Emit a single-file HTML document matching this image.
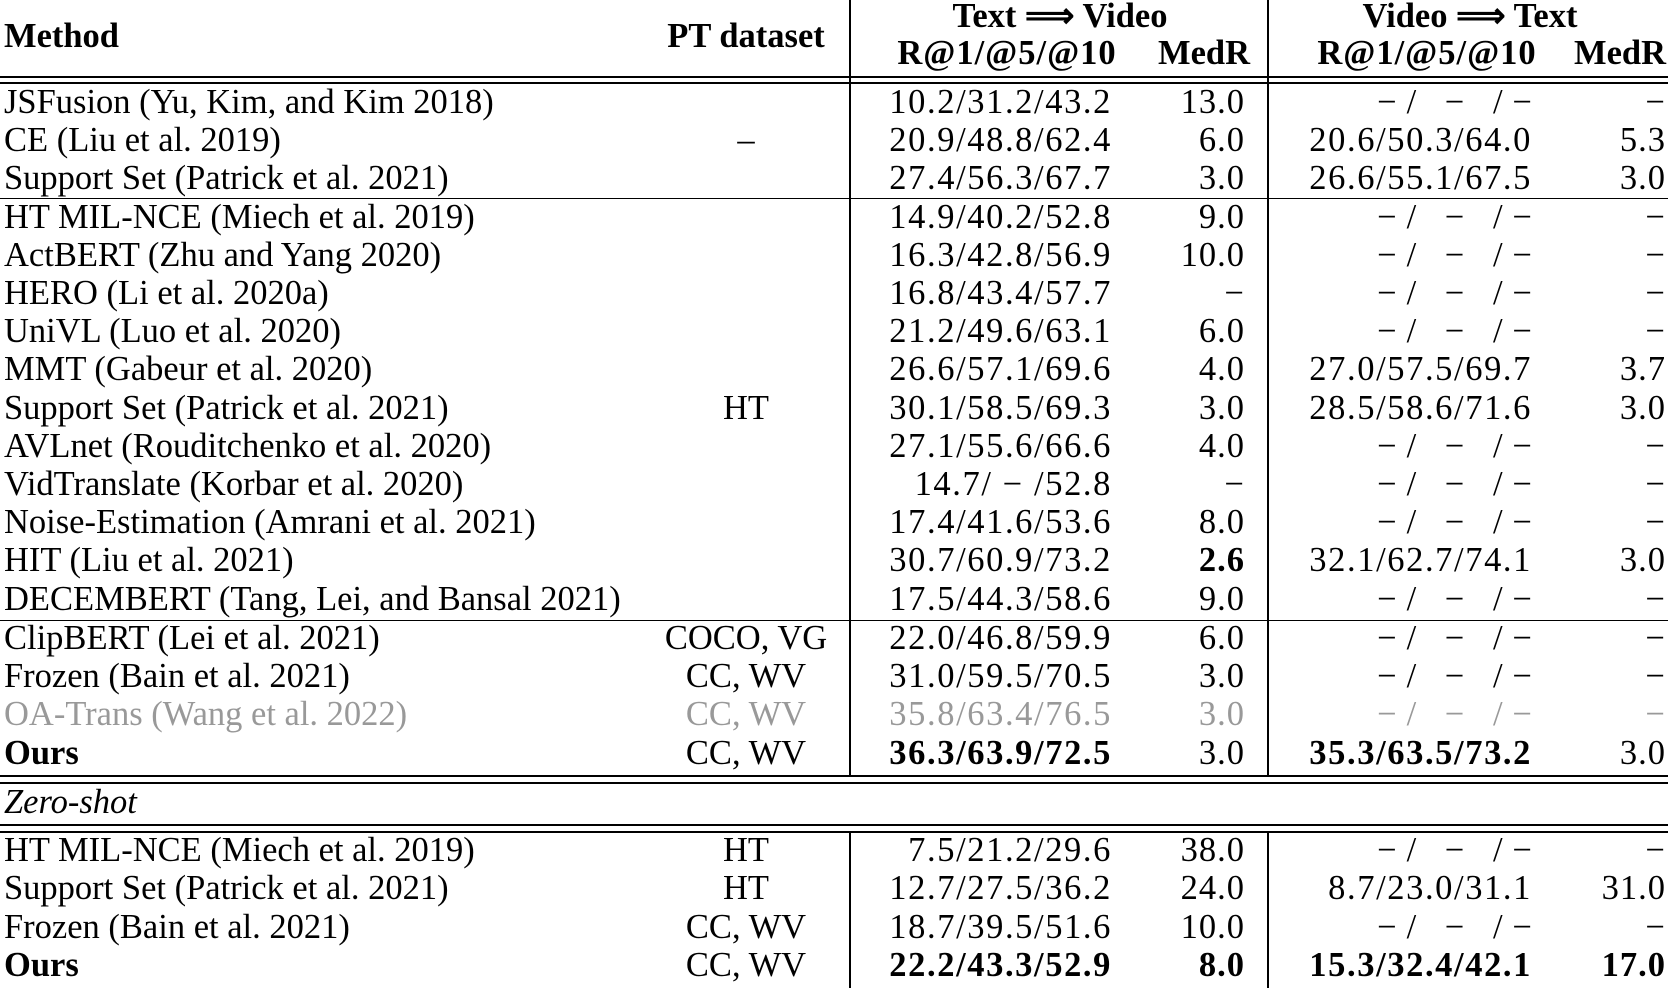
<!DOCTYPE html>
<html><head><meta charset="utf-8"><style>
body{margin:0;width:1668px;height:988px;background:#fff;overflow:hidden;position:relative;font-family:"Liberation Serif",serif;font-size:34.5px;color:#000}
.r{position:absolute;left:0;width:1668px;height:38px;line-height:38px;white-space:nowrap}
.r span{position:absolute;top:0}
.m{left:4px}
.p{left:596px;width:300px;text-align:center}
.a{left:712px;width:400px;text-align:right;letter-spacing:1.6px}
.b{left:1045px;width:200px;text-align:right;letter-spacing:1px}
.c{left:1132px;width:400px;text-align:right;letter-spacing:1.6px}
.d{left:1466px;width:200px;text-align:right;letter-spacing:1px}
.r span.z{letter-spacing:10px;width:410px}
.h{position:absolute;left:0;width:1668px;background:#000}
.v{position:absolute;top:0;width:1.5px;background:#000}
.g{color:#999}
.B{font-weight:bold}
.hd{position:absolute;font-weight:bold;white-space:nowrap;line-height:38px}
</style></head><body>
<div class="v" style="left:849px;height:988px"></div>
<div class="v" style="left:1267px;height:988px"></div>
<div class="hd" style="left:4px;top:17px">Method</div>
<div class="hd" style="left:646px;width:200px;text-align:center;top:17px">PT dataset</div>
<div class="hd" style="left:900px;width:320px;text-align:center;top:-3px">Text ⟹ Video</div>
<div class="hd" style="left:1310px;width:320px;text-align:center;top:-3px">Video ⟹ Text</div>
<div class="hd" style="left:880px;width:254px;text-align:center;top:34px;letter-spacing:1px">R@1/@5/@10</div>
<div class="hd" style="left:1140px;width:110px;text-align:right;top:34px">MedR</div>
<div class="hd" style="left:1300px;width:254px;text-align:center;top:34px;letter-spacing:1px">R@1/@5/@10</div>
<div class="hd" style="left:1556px;width:110px;text-align:right;top:34px">MedR</div>
<div style="position:absolute;left:0;top:776px;width:1668px;height:56px;background:#fff"></div>
<div class="h" style="top:76px;height:1.5px"></div>
<div class="h" style="top:82px;height:1.5px"></div>
<div class="h" style="top:198px;height:1.2px"></div>
<div class="h" style="top:620px;height:1.2px"></div>
<div class="h" style="top:775px;height:1.5px"></div>
<div class="h" style="top:782px;height:1.5px"></div>
<div class="h" style="top:824px;height:1.5px"></div>
<div class="h" style="top:831px;height:1.5px"></div>

<div class="r" style="top:83px"><span class="m">JSFusion (Yu, Kim, and Kim 2018)</span><span class="a">10.2/31.2/43.2</span><span class="b">13.0</span><span class="c z">−/ − /−</span><span class="d">−</span></div>
<div class="r" style="top:121px"><span class="m">CE (Liu et al. 2019)</span><span class="p">–</span><span class="a">20.9/48.8/62.4</span><span class="b">6.0</span><span class="c">20.6/50.3/64.0</span><span class="d">5.3</span></div>
<div class="r" style="top:159px"><span class="m">Support Set (Patrick et al. 2021)</span><span class="a">27.4/56.3/67.7</span><span class="b">3.0</span><span class="c">26.6/55.1/67.5</span><span class="d">3.0</span></div>
<div class="r" style="top:198px"><span class="m">HT MIL-NCE (Miech et al. 2019)</span><span class="a">14.9/40.2/52.8</span><span class="b">9.0</span><span class="c z">−/ − /−</span><span class="d">−</span></div>
<div class="r" style="top:236px"><span class="m">ActBERT (Zhu and Yang 2020)</span><span class="a">16.3/42.8/56.9</span><span class="b">10.0</span><span class="c z">−/ − /−</span><span class="d">−</span></div>
<div class="r" style="top:274px"><span class="m">HERO (Li et al. 2020a)</span><span class="a">16.8/43.4/57.7</span><span class="b">−</span><span class="c z">−/ − /−</span><span class="d">−</span></div>
<div class="r" style="top:312px"><span class="m">UniVL (Luo et al. 2020)</span><span class="a">21.2/49.6/63.1</span><span class="b">6.0</span><span class="c z">−/ − /−</span><span class="d">−</span></div>
<div class="r" style="top:350px"><span class="m">MMT (Gabeur et al. 2020)</span><span class="a">26.6/57.1/69.6</span><span class="b">4.0</span><span class="c">27.0/57.5/69.7</span><span class="d">3.7</span></div>
<div class="r" style="top:389px"><span class="m">Support Set (Patrick et al. 2021)</span><span class="p">HT</span><span class="a">30.1/58.5/69.3</span><span class="b">3.0</span><span class="c">28.5/58.6/71.6</span><span class="d">3.0</span></div>
<div class="r" style="top:427px"><span class="m">AVLnet (Rouditchenko et al. 2020)</span><span class="a">27.1/55.6/66.6</span><span class="b">4.0</span><span class="c z">−/ − /−</span><span class="d">−</span></div>
<div class="r" style="top:465px"><span class="m">VidTranslate (Korbar et al. 2020)</span><span class="a">14.7/ − /52.8</span><span class="b">−</span><span class="c z">−/ − /−</span><span class="d">−</span></div>
<div class="r" style="top:503px"><span class="m">Noise-Estimation (Amrani et al. 2021)</span><span class="a">17.4/41.6/53.6</span><span class="b">8.0</span><span class="c z">−/ − /−</span><span class="d">−</span></div>
<div class="r" style="top:541px"><span class="m">HIT (Liu et al. 2021)</span><span class="a">30.7/60.9/73.2</span><span class="b B">2.6</span><span class="c">32.1/62.7/74.1</span><span class="d">3.0</span></div>
<div class="r" style="top:580px"><span class="m">DECEMBERT (Tang, Lei, and Bansal 2021)</span><span class="a">17.5/44.3/58.6</span><span class="b">9.0</span><span class="c z">−/ − /−</span><span class="d">−</span></div>
<div class="r" style="top:619px"><span class="m">ClipBERT (Lei et al. 2021)</span><span class="p">COCO, VG</span><span class="a">22.0/46.8/59.9</span><span class="b">6.0</span><span class="c z">−/ − /−</span><span class="d">−</span></div>
<div class="r" style="top:657px"><span class="m">Frozen (Bain et al. 2021)</span><span class="p">CC, WV</span><span class="a">31.0/59.5/70.5</span><span class="b">3.0</span><span class="c z">−/ − /−</span><span class="d">−</span></div>
<div class="r g" style="top:695px"><span class="m">OA-Trans (Wang et al. 2022)</span><span class="p">CC, WV</span><span class="a">35.8/63.4/76.5</span><span class="b">3.0</span><span class="c z">−/ − /−</span><span class="d">−</span></div>
<div class="r" style="top:734px"><span class="m B">Ours</span><span class="p">CC, WV</span><span class="a B">36.3/63.9/72.5</span><span class="b">3.0</span><span class="c B">35.3/63.5/73.2</span><span class="d">3.0</span></div>
<div class="r" style="top:783px"><span class="m" style="font-style:italic">Zero-shot</span></div>
<div class="r" style="top:831px"><span class="m">HT MIL-NCE (Miech et al. 2019)</span><span class="p">HT</span><span class="a">7.5/21.2/29.6</span><span class="b">38.0</span><span class="c z">−/ − /−</span><span class="d">−</span></div>
<div class="r" style="top:869px"><span class="m">Support Set (Patrick et al. 2021)</span><span class="p">HT</span><span class="a">12.7/27.5/36.2</span><span class="b">24.0</span><span class="c">8.7/23.0/31.1</span><span class="d">31.0</span></div>
<div class="r" style="top:908px"><span class="m">Frozen (Bain et al. 2021)</span><span class="p">CC, WV</span><span class="a">18.7/39.5/51.6</span><span class="b">10.0</span><span class="c z">−/ − /−</span><span class="d">−</span></div>
<div class="r" style="top:946px"><span class="m B">Ours</span><span class="p">CC, WV</span><span class="a B">22.2/43.3/52.9</span><span class="b B">8.0</span><span class="c B">15.3/32.4/42.1</span><span class="d B">17.0</span></div>
</body></html>
